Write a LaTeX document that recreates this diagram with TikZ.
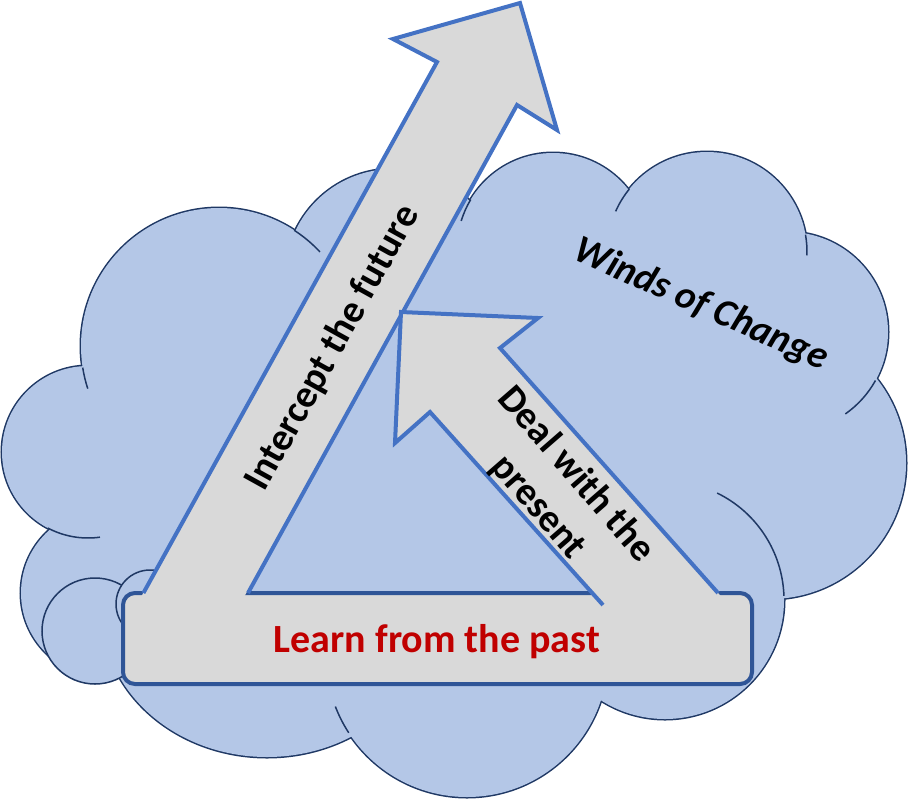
\documentclass[tikz,border=0pt]{standalone}
\usepackage{fontspec}
\setmainfont{Carlito}
\definecolor{cloudfill}{HTML}{B4C7E7}
\definecolor{cloudline}{HTML}{1F3864}
\definecolor{arrowfill}{HTML}{D9D9D9}
\definecolor{arrowline}{HTML}{4472C4}
\definecolor{bannerline}{HTML}{2F5597}
\definecolor{pastred}{HTML}{C00000}
\tikzset{
  cloudedge/.style={draw=cloudline, line width=3pt},
  cloudbody/.style={fill=cloudfill},
  crease/.style={draw=cloudline, line width=1.5pt},
  bubble/.style={draw=cloudline, line width=1.5pt, fill=cloudfill},
  arrowbody/.style={fill=arrowfill},
  arrowedge/.style={draw=arrowline, line width=4pt, line join=miter},
  banner/.style={draw=bannerline, line width=4pt, fill=arrowfill, rounded corners=12pt},
  txt/.style={font=\fontsize{39}{50}\selectfont\bfseries, inner sep=0pt}
}
\begin{document}
\begin{tikzpicture}[x=1pt,y=-1pt]
\useasboundingbox (0,0) rectangle (909,798);
\def\bumps{219/346/138, 88/452/86, 105/593/84, 467/656/141, 665/600/119, 770/463/136, 788/332/100, 707/252/100, 553/249/96, 393/277/108}
% cloud outline (thick strokes, then fills on top)
\foreach \cx/\cy/\r in \bumps { \path[cloudedge] (\cx,\cy) circle[radius=\r]; }
\path[cloudedge] (267,612) ellipse[x radius=165, y radius=145];
\foreach \cx/\cy/\r in \bumps { \path[cloudbody] (\cx,\cy) circle[radius=\r]; }
\path[cloudbody] (267,612) ellipse[x radius=165, y radius=145];
\path[cloudbody] (219,346) -- (393,277) -- (553,249) -- (707,252) -- (788,332) -- (770,463) -- (665,600) -- (467,656) -- (267,612) -- (105,593) -- (88,452) -- cycle;
% creases
\path[crease] ([shift={(162:138)}]219,346) arc[start angle=162, end angle=171, radius=138];
\path[crease] ([shift={(-57:138)}]219,346) arc[start angle=-57, end angle=-43, radius=138];
\path[crease] ([shift={(82:86)}]88,452) arc[start angle=82, end angle=118, radius=86];
\path[crease] ([shift={(197:96)}]553,249) arc[start angle=197, end angle=211, radius=96];
\path[crease] ([shift={(204:100)}]707,252) arc[start angle=204, end angle=219, radius=100];
\path[crease] ([shift={(-10:100)}]707,252) arc[start angle=-10, end angle=2, radius=100];
\path[crease] ([shift={(29:100)}]788,332) arc[start angle=29, end angle=55, radius=100];
\path[crease] ([shift={(-64:119)}]665,600) arc[start angle=-64, end angle=-2, radius=119];
\path[crease] ([shift={(147:141)}]467,656) arc[start angle=147, end angle=159, radius=141];
% small bubbles
\path[bubble] (95,631) circle[radius=53];
\path[bubble] (150,604) circle[radius=34];
% banner
\path[banner] (123,593) rectangle (752,684);
% big arrow
\path[arrowbody] (141,597) -- (437,62) -- (393,39) -- (520,3) -- (557,130) -- (517,105) -- (244,597) -- cycle;
\path[arrowedge] (143.4,593) -- (437,62) -- (393,39) -- (520,3) -- (557,130) -- (517,105) -- (248,593);
% second arrow
\path[arrowbody] (401,312) -- (538,318) -- (500,348) -- (721.6,597) -- (594.6,597) -- (430,412) -- (395,443) -- cycle;
\path[arrowedge] (603,605) -- (430,412) -- (395,443) -- (401,312) -- (538,318) -- (500,348) -- (718,593);
% texts
\node[txt, rotate=61] (future) at (333,348) {Intercept the future};
\node[txt, rotate=-24, font=\fontsize{39}{50}\selectfont\bfseries\itshape] (winds) at (701,305) {Winds of Change};
\node[txt, rotate=-49, align=center] (present) at (557,491) {Deal with the\\present};
\node[txt, text=pastred, font=\fontsize{40}{50}\selectfont\bfseries] (past) at (437,642) {Learn from the past};
\end{tikzpicture}
\end{document}
